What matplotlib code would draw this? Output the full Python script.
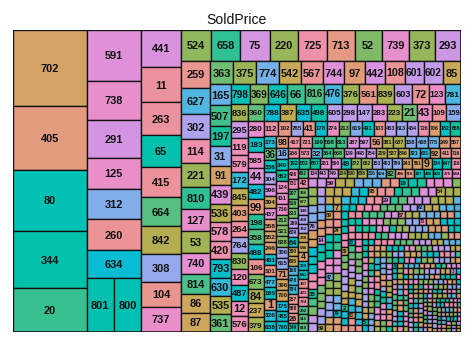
import sys
import math
import matplotlib
matplotlib.use("Agg")
import matplotlib.pyplot as plt
from matplotlib.patches import Rectangle
from matplotlib.collections import PatchCollection

sys.setrecursionlimit(20000)

TITLE = "SoldPrice"
N_HOUSES = 850

# readable cells (house id -> SoldPrice, relative units), largest first
house_ids = [
    702, 405, 80, 344, 20,
    591, 738, 291, 125, 312, 260, 634, 801, 800,
    441, 11, 263, 65, 415, 664, 842, 308, 104, 737,
    524, 658, 75, 220, 725, 713, 52, 739, 373, 293,
    259, 627, 302, 114, 221, 810, 127, 53, 740, 814, 86, 87,
    363, 375, 774, 542, 567, 744, 97, 442, 108, 601, 602, 85,
    165, 507, 197, 31, 91, 439, 536, 578, 420, 793, 630, 535, 361,
    798, 369, 646, 66, 816, 476, 376, 561, 839, 603, 72, 123, 781,
    836, 295, 119, 579, 172, 845, 403, 264, 764, 830, 120, 487, 12, 576,
    360, 788, 387, 635, 498, 605, 298, 147, 283, 223, 21, 43, 109, 159,
    280, 183, 585, 44, 482, 99, 198, 358, 488, 106, 673, 84, 237, 379, 112,
    102, 765, 41, 178, 274, 213, 619, 491, 103, 453, 613, 454, 726, 706, 182,
    655, 173, 36, 336, 304, 596, 394, 437, 558, 552, 246, 481, 101, 477, 185,
]
sold_price = [
    5526, 4694, 4453, 4183, 3168,
    2734, 2090, 2053, 1660, 1650, 1640, 1490, 1460, 1455,
    1450, 1400, 1290, 1250, 1180, 1150, 1090, 1080, 990, 980,
    905, 900, 890, 875, 860, 845, 830, 815, 800, 790,
    790, 750, 725, 695, 668, 652, 638, 622, 596, 580, 556, 540,
    538, 534, 530, 524, 505, 494, 485, 473, 462, 447, 435, 427,
    425, 418, 410, 400, 386, 380, 378, 376, 374, 371, 369, 367, 363,
    360, 357, 354, 350, 346, 342, 338, 335, 332, 328, 322, 312, 302,
    300, 297, 294, 291, 288, 285, 283, 281, 279, 277, 275, 273, 271, 269,
    269, 265, 262, 260, 258, 256, 254, 252, 251, 250, 249, 248, 247, 246,
    245, 242, 240, 238, 236, 234, 232, 230, 228, 226, 224, 222, 220, 218, 216,
    185, 183, 181, 179, 177, 175, 173, 172, 170, 168, 166, 164, 162, 160, 158,
    157, 156, 154, 153, 151, 150, 149, 147, 146, 145, 144, 143, 142, 141, 140,
]
# unreadable small cells: how many cells of roughly which SoldPrice
tail_counts = [8, 8, 8, 8, 8, 8, 8, 8, 10, 10, 10, 10, 12, 12, 12, 14, 14, 14,
               16, 16, 16, 18, 18, 18, 20, 20, 20, 22, 22, 24, 24, 24, 26, 26, 26,
               28, 28, 22, 20, 30, 27]
tail_prices = [140, 135, 130, 125, 120, 115, 110, 105, 100, 96, 92, 88, 84, 80, 77,
               74, 71, 68, 65, 62, 59, 56, 53, 50, 48, 46, 44, 42, 40, 38, 36, 34,
               32, 30, 28, 26, 24, 22, 20, 19, 18]

# ---------------------------------------------------------------- data table
used = set(house_ids)
rest_ids = [i for i in range(1, N_HOUSES + 1) if i not in used]
tail_vals = [p for n, p in zip(tail_counts, tail_prices) for _ in range(n)]
m = min(len(rest_ids), len(tail_vals))
tail_ids = [rest_ids[(k * 256) % len(rest_ids)] for k in range(len(rest_ids))][:m]
ids = house_ids + tail_ids
vals = sold_price + tail_vals[:m]
order = sorted(range(len(ids)), key=lambda i: -vals[i])
ids = [ids[i] for i in order]
vals = [vals[i] for i in order]

# ---------------------------------------------------------------- layout
W0, H0 = 448.3, 301.7


def pivot(idx, x, y, w, h, out):
    if not idx:
        return
    if len(idx) == 1:
        out.append((idx[0], x, y, w, h))
        return
    tot = sum(vals[i] for i in idx)
    p = idx[0]
    pv = vals[p]
    rest = idx[1:]
    best_k, best_r = 0, float("inf")
    cum = pv
    for k in range(0, len(rest) + 1):
        if k > 0:
            cum += vals[rest[k - 1]]
        if w >= h:
            a = w * cum / tot
            b = h * pv / cum
        else:
            a = h * cum / tot
            b = w * pv / cum
        r = max(a / b, b / a)
        if r < best_r:
            best_r, best_k = r, k
    l2, l3 = rest[:best_k], rest[best_k:]
    cum = pv + sum(vals[i] for i in l2)
    if w >= h:
        cw = w * cum / tot
        ph = h * pv / cum
        out.append((p, x, y, cw, ph))
        pivot(l2, x, y + ph, cw, h - ph, out)
        pivot(l3, x + cw, y, w - cw, h, out)
    else:
        bh = h * cum / tot
        pw = w * pv / cum
        out.append((p, x, y, pw, bh))
        pivot(l2, x + pw, y, w - pw, bh, out)
        pivot(l3, x, y + bh, w, h - bh, out)


cells = []
pivot(list(range(len(ids))), 0.0, 0.0, W0, H0, cells)

# ---------------------------------------------------------------- colours


def hcl_hex(hh, c=60.0, l=70.0):
    hr = math.radians(hh)
    u, v = c * math.cos(hr), c * math.sin(hr)
    Y = ((l + 16) / 116) ** 3
    un, vn = 0.1978398, 0.4683363
    up = u / (13 * l) + un
    vp = v / (13 * l) + vn
    X = Y * 9 * up / (4 * vp)
    Z = Y * (12 - 3 * up - 20 * vp) / (4 * vp)
    rgb = [3.240479 * X - 1.537150 * Y - 0.498535 * Z,
           -0.969256 * X + 1.875992 * Y + 0.041556 * Z,
           0.055648 * X - 0.204043 * Y + 1.057311 * Z]
    out = []
    for ch in rgb:
        ch = min(max(ch, 0.0), 1.0)
        ch = 12.92 * ch if ch <= 0.0031308 else 1.055 * ch ** (1 / 2.4) - 0.055
        out.append(min(max(ch, 0.0), 1.0))
    return tuple(out)


levels = sorted(str(i) for i in range(1, N_HOUSES + 1))
rank = {int(s): r for r, s in enumerate(levels)}
SPREAD = 5
block = math.ceil(N_HOUSES / SPREAD)


def colour_of(hid):
    r = rank[hid]
    b, mm = divmod(r, block)
    pos = b + SPREAD * mm
    return hcl_hex((30 - 360.0 * pos / N_HOUSES) % 360)


# ---------------------------------------------------------------- draw
DPI = 100
fig = plt.figure(figsize=(4.74, 3.38), dpi=DPI)
fig.patch.set_facecolor("white")
ax = fig.add_axes([12.7 / 474, (338 - 331.7) / 338, W0 / 474, H0 / 338])
ax.set_xlim(0, W0)
ax.set_ylim(H0, 0)
ax.axis("off")

patches, fcs = [], []
for i, x, y, w, h in cells:
    patches.append(Rectangle((x, y), w, h))
    fcs.append(colour_of(ids[i]))
pc = PatchCollection(patches, facecolors=fcs, edgecolors="#111111", linewidths=0.95)
ax.add_collection(pc)
ax.add_patch(Rectangle((0, 0), W0, H0, fill=False, edgecolor="#111111", linewidth=1.1))

FS = 11.0  # px
for i, x, y, w, h in cells:
    lab = str(ids[i])
    tw = len(lab) * 0.556 * FS
    th = 0.85 * FS
    s = min(1.0, (w - 2.0) / tw, (h - 1.5) / th)
    if s < 0.4:
        continue
    fs = FS * s
    ax.text(x + w / 2, y + h / 2 + 0.36 * fs, lab, fontsize=fs * 72 / DPI,
            fontweight="bold", ha="center", va="baseline",
            family="Liberation Sans", color="#111111")

fig.text(236.9 / 474, 1 - 24.0 / 338, TITLE, ha="center", va="baseline",
         fontsize=14 * 72 / DPI, family="Liberation Sans", color="#111111")

fig.savefig("out.png", dpi=DPI)
